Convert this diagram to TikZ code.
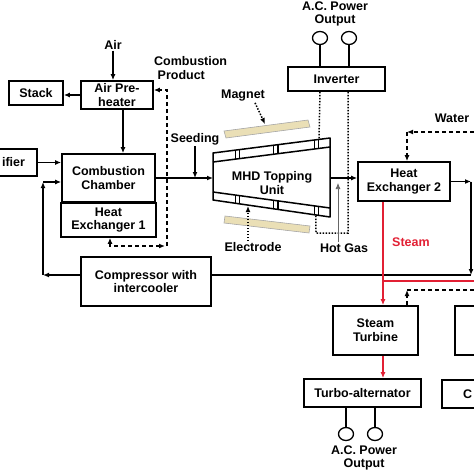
\documentclass[tikz,border=0pt]{standalone}
\usepackage{fontspec}
\setmainfont{Liberation Sans}
\usetikzlibrary{positioning}
\usetikzlibrary{arrows.meta}
\usetikzlibrary{calc}
\usetikzlibrary{shapes.geometric}

\definecolor{steamred}{RGB}{226,32,52}
\definecolor{magtan}{RGB}{234,223,182}
\newcommand{\bfs}{\bfseries\fontsize{12.5}{13.8}\selectfont}

\tikzset{
	blk/.style={draw,line width=1.7pt,align=center,font=\bfs,inner sep=1pt},
	lbl/.style={align=center,font=\bfs,inner sep=1pt},
	flow/.style={line width=1.5pt,->},
	dline/.style={line width=1.5pt,dash pattern=on 4pt off 3pt},
	dotl/.style={line width=1.5pt,dash pattern=on 1.5pt off 1.5pt},
	wall/.style={line width=1.5pt,line join=round},
	steam/.style={line width=1.6pt,draw=steamred,->},
	term/.style={ellipse,draw,line width=1.3pt,minimum width=15pt,minimum height=13pt,inner sep=0pt},
	magnet/.style={fill=magtan,draw=black!35,line width=0.6pt}
}

\begin{document}
\begin{tikzpicture}[x=1pt,y=-1pt,>={Latex[length=6pt,width=5pt]}]
	\useasboundingbox (0,0) rectangle (474,474);
	%% blocks
	\node[blk,minimum width=54pt,minimum height=24pt] (st) at (36,93) {Stack};
	\node[blk,minimum width=72pt,minimum height=28pt] (aph) at (117,95) {Air Pre-\\heater};
	\node[blk,minimum width=57pt,minimum height=27pt,text width=33pt,align=right] (pu) at (8.5,162.5) {ifier};
	\node[blk,minimum width=93pt,minimum height=48pt] (cc) at (108.5,178) {Combustion\\Chamber};
	\node[blk,minimum width=95pt,minimum height=34pt] (hx1) at (108.5,220) {Heat\\Exchanger 1};
	\node[blk,minimum width=130pt,minimum height=49pt] (cm) at (146,281.5) {Compressor with\\intercooler};
	\node[blk,minimum width=97pt,minimum height=24pt] (inv) at (336.5,79) {Inverter};
	\node[blk,minimum width=92pt,minimum height=39pt] (hx2) at (404,181.5) {Heat\\Exchanger 2};
	\node[blk,minimum width=85pt,minimum height=49pt] (tb) at (375.5,330.5) {Steam\\Turbine};
	\node[blk,minimum width=117pt,minimum height=28pt] (ta) at (362.5,393) {Turbo-alternator};
	\node[blk,minimum width=45pt,minimum height=49pt] (rb1) at (477.5,330.5) {};
	\node[blk,minimum width=58pt,minimum height=28pt,text width=16pt,align=left] (rb2) at (471,394) {C};
	%% labels
	\node[lbl] (air) at (113,45) {Air};
	\node[lbl,align=left,anchor=west] (cp) at (153,68) {Combustion\\\ Product};
	\node[lbl] (sd) at (195,139) {Seeding};
	\node[lbl] (mg) at (243,96) {Magnet};
	\node[lbl] (el) at (253,247) {Electrode};
	\node[lbl] (hg) at (344,248) {Hot Gas};
	\node[lbl] (wt) at (452,118) {Water};
	\node[lbl,text=steamred] (sm) at (411,242) {Steam};
	\node[lbl] (ac1) at (335,14) {A.C. Power\\Output};
	\node[lbl] (ac2) at (364,458) {A.C. Power\\Output};
	%% terminals
	\node[term] (t1) at (320,38) {};
	\node[term] (t2) at (349,38) {};
	\node[term] (t3) at (346,434) {};
	\node[term] (t4) at (375,434) {};
	\draw[wall] (t1.south) -- (t1.south |- inv.north);
	\draw[wall] (t2.south) -- (t2.south |- inv.north);
	\draw[wall] (t3.north |- ta.south) -- (t3.north);
	\draw[wall] (t4.north |- ta.south) -- (t4.north);
	%% MHD channel
	\coordinate (m1) at (213,153);
	\coordinate (m2) at (330,138);
	\coordinate (m3) at (330,217);
	\coordinate (m4) at (213,200);
	\coordinate (m1i) at (213,162);
	\coordinate (m2i) at (330,147);
	\coordinate (m3i) at (330,208);
	\coordinate (m4i) at (213,192);
	\draw[magnet] (224,131) -- (308,120) -- (310,127) -- (226,138) -- cycle;
	\draw[magnet] (225,216) -- (310,226) -- (309,233) -- (224,223) -- cycle;
	\draw[wall] (m1) -- (m2) -- (m3) -- (m4) -- cycle;
	\draw[wall] (m1i) -- (m2i) (m4i) -- (m3i);
	\foreach \t in {0.19,0.52,0.87}{
		\draw[line width=1.2pt] ($(m1)!\t!(m2)$) -- ($(m1i)!\t!(m2i)$);
		\draw[line width=1.2pt] ($(m1)!\t+0.035!(m2)$) -- ($(m1i)!\t+0.035!(m2i)$);
		\draw[line width=1.2pt] ($(m4)!\t!(m3)$) -- ($(m4i)!\t!(m3i)$);
		\draw[line width=1.2pt] ($(m4)!\t+0.035!(m3)$) -- ($(m4i)!\t+0.035!(m3i)$);
	}
	\node[lbl] (mhd) at (272,183) {MHD Topping\\Unit};
	% gas path
	\draw[flow] (air.south) -- (air.south |- aph.north);
	\draw[flow] (aph.west) -- (aph.west -| st.east);
	\draw[flow] ([xshift=6pt]aph.south) -- ([xshift=6pt]aph.south |- cc.north);
	\draw[flow] (pu.east) -- (pu.east -| cc.west);
	\draw[flow] (cc.east) -- (m4 |- cc.east);
	\draw[flow] (sd.south) -- (sd.south |- cc.east);
	\draw[flow] (m2 |- cc.east) -- (hx2.west |- cc.east);
	% compressor loop
	\coordinate (c1) at (43,275);
	\coordinate (c2) at (43,182);
	\draw[flow] (cm.west |- c1) -- (c1);
	\draw[flow] (c1) -- (c2);
	\draw[flow] (c2) -- (c2 -| cc.west);
	\coordinate (r1) at (471,181.5);
	\coordinate (r2) at (471,275);
	\draw[flow] (hx2.east) -- (r1);
	\draw[flow] (r1) -- (r2);
	\draw[line width=1.5pt] (r2) -- (cm.east |- r2);
	% combustion product
	\coordinate (d1) at (110,246);
	\coordinate (d2) at (165,246);
	\coordinate (d3) at (167,90);
	\draw[dline,<->] (hx1.south -| d1) -- (d1) -- (d2);
	\draw[dline,->] (d3 |- d2) -- (d3) -- (d3 -| aph.east);
	% inverter leads
	\coordinate (h1) at (348,233);
	\coordinate (h2) at (316,233);
	\draw[dotl] (inv.south -| t1) -- ($(m1)!0.906!(m2)$);
	\draw[dotl] (inv.south -| h1) -- (h1) -- (h2) -- ($(m4)!0.88!(m3)$);
	\draw[dotl,->] ([xshift=12pt]mg.south) -- (265,124);
	\draw[dotl,->] ([xshift=-5pt]el.north) -- (248,206);
	\draw[line width=0.7pt,draw=black!60,->] ([xshift=-6pt]hg.north) -- (338,183);
	% water and steam
	\coordinate (w1) at (474,132);
	\coordinate (w2) at (407,132);
	\draw[dline,->] (w1) -- (w2);
	\draw[dline,->] (w2) -- (w2 |- hx2.north);
	\coordinate (s1) at (383,281);
	\coordinate (s2) at (474,281);
	\draw[steam] ([xshift=-21pt]hx2.south) -- ([xshift=-21pt]hx2.south |- tb.north);
	\draw[steam,-] (s1) -- (s2);
	\draw[steam] (tb.south -| s1) -- (s1 |- ta.north);
	\coordinate (u1) at (407,290);
	\draw[dline,->] (tb.north -| u1) -- (u1);
	\draw[dline] (u1) -- (474,290);
\end{tikzpicture}
\end{document}
